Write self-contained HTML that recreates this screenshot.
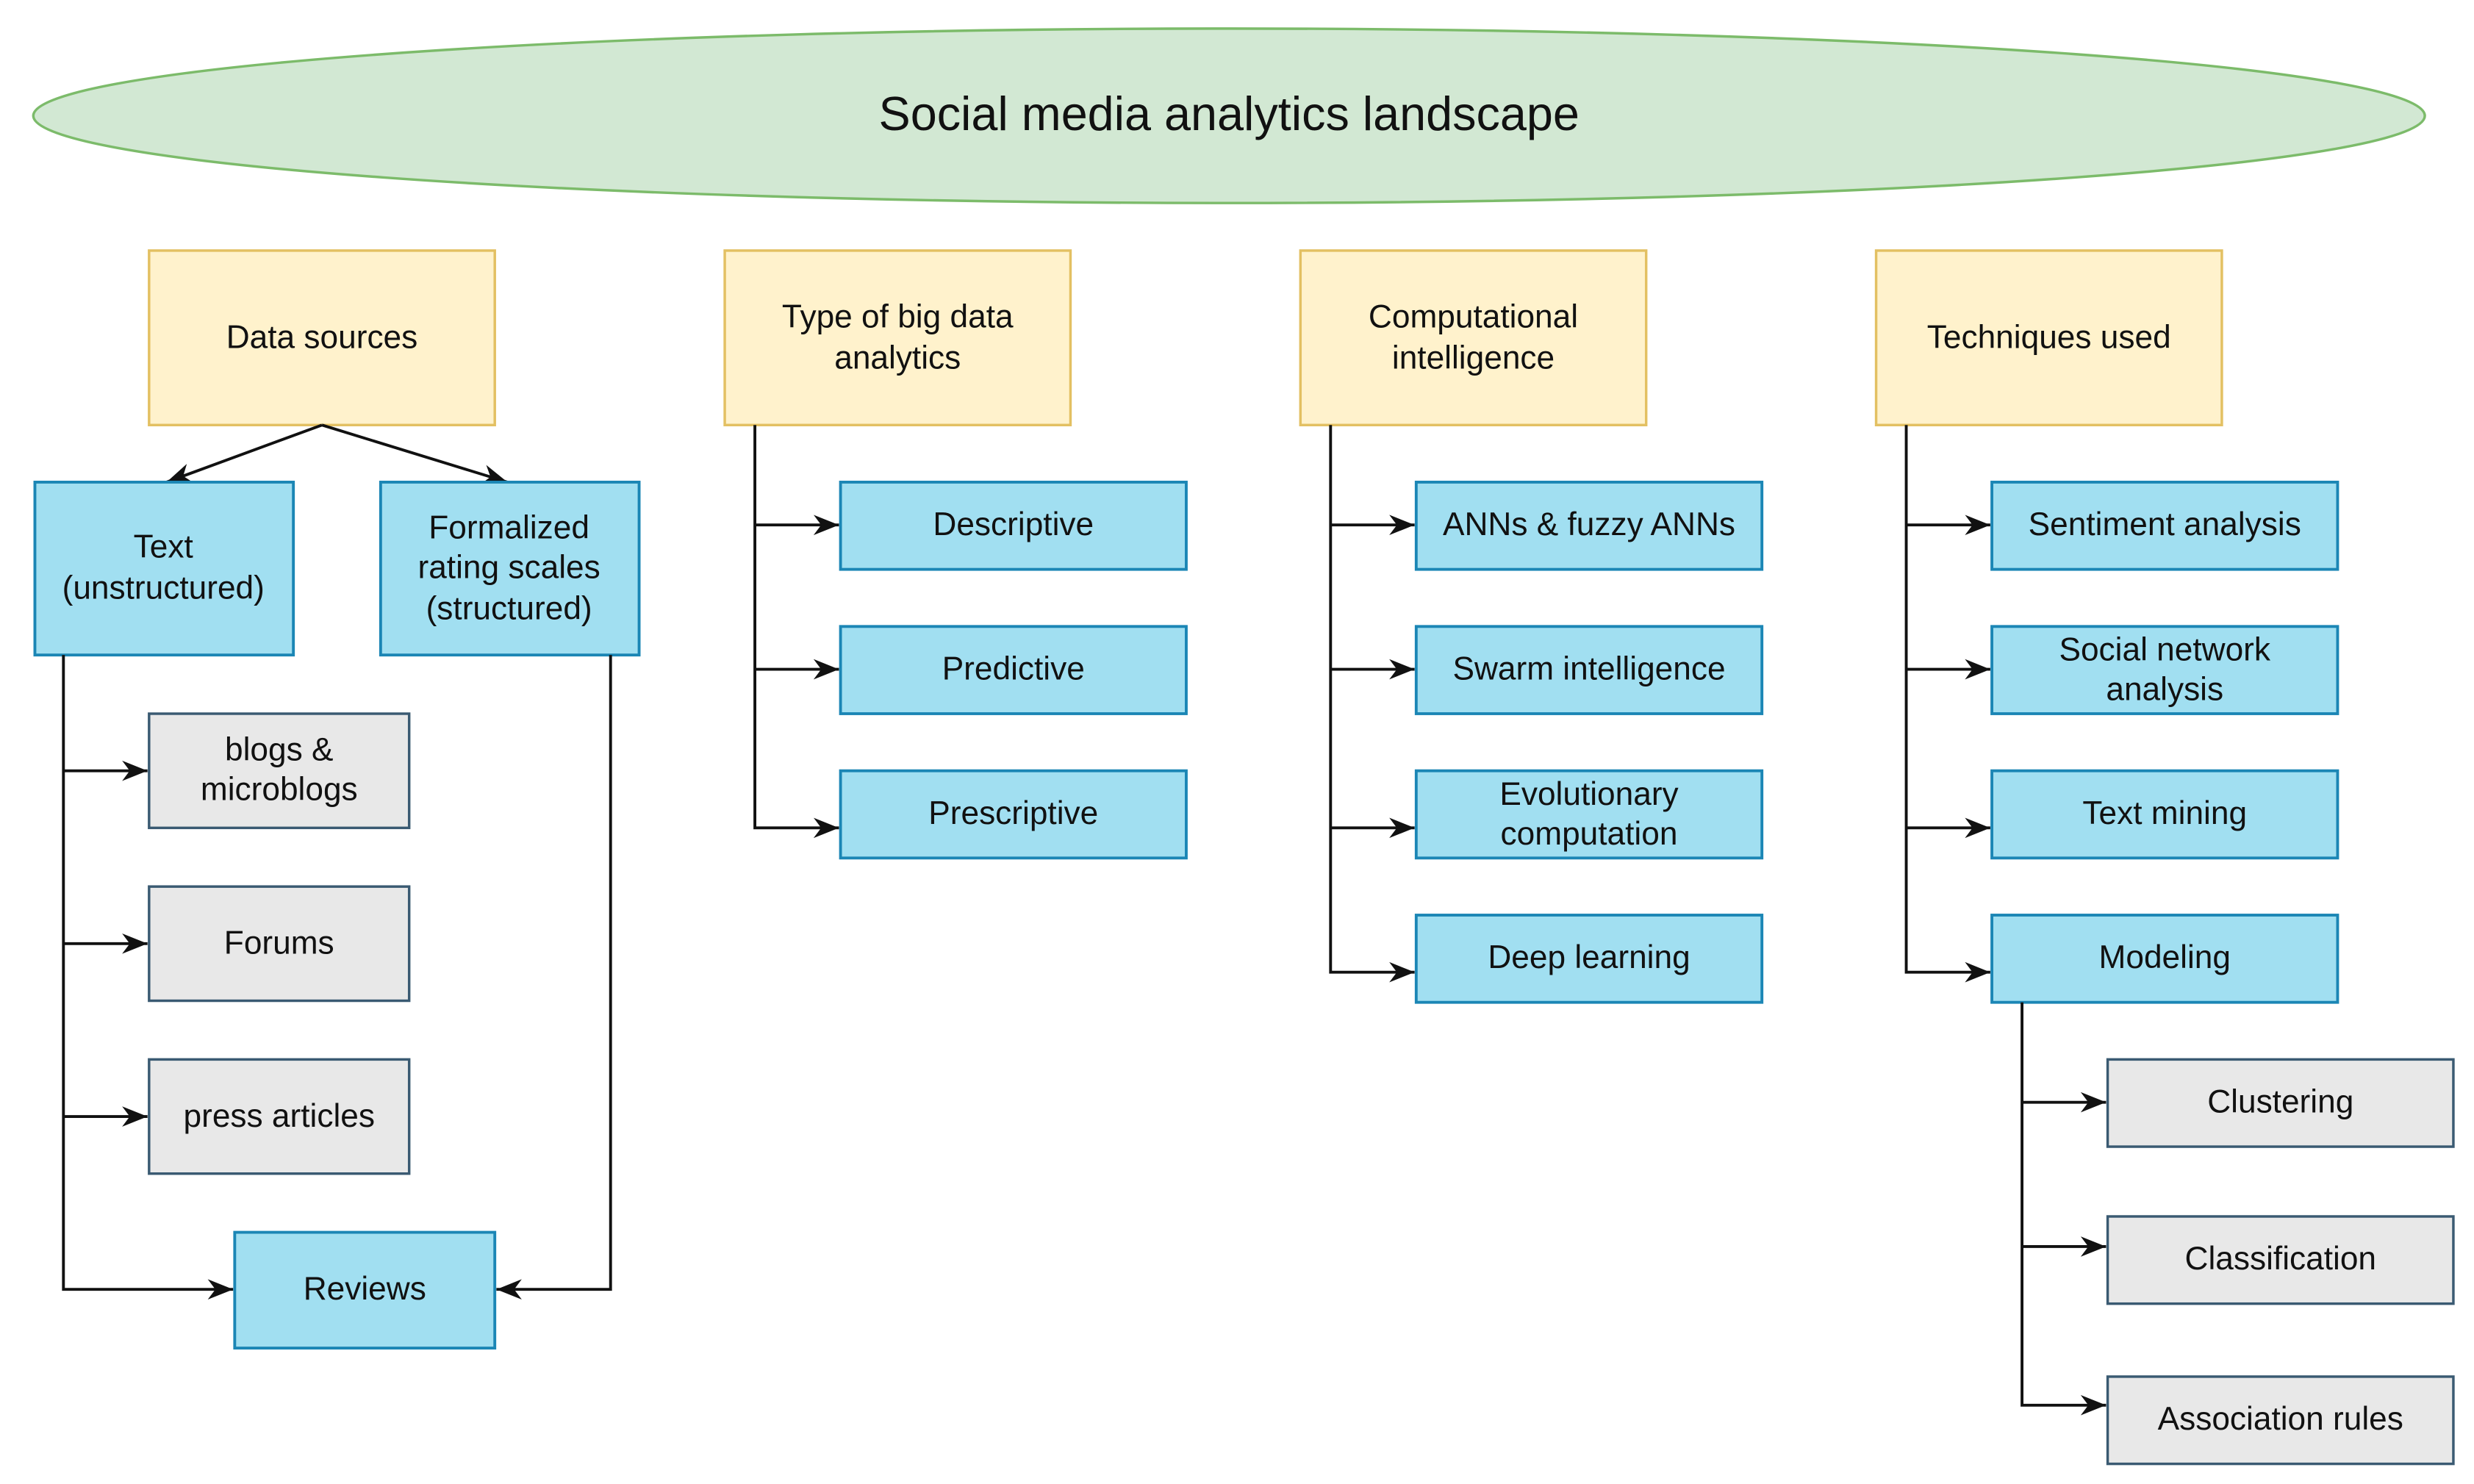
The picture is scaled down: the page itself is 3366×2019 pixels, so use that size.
<!DOCTYPE html>
<html><head><meta charset="utf-8"><style>
html,body{margin:0;padding:0;background:#fff;}
svg{display:block;}
text{font-family:"Liberation Sans",Arial,sans-serif;fill:#111;text-anchor:middle;dominant-baseline:middle;font-size:20.5px;}
.y{fill:#fff2cc;stroke:#e3c062;stroke-width:1.6}
.b{fill:#a1dff1;stroke:#1b86b5;stroke-width:1.8}
.g{fill:#e8e8e8;stroke:#3a5a72;stroke-width:1.6}
.l{stroke:#111;stroke-width:1.8;fill:none}
</style></head><body>
<svg width="3366" height="2019" viewBox="0 0 1560 935.7" preserveAspectRatio="none" xmlns="http://www.w3.org/2000/svg">
<defs><marker id="a" viewBox="0 0 10 10" refX="10" refY="5" markerWidth="7.5" markerHeight="7.5" orient="auto" markerUnits="userSpaceOnUse"><path d="M0,0 L10,5 L0,10 L3,5 z" fill="#111"/></marker>
<marker id="m" viewBox="0 0 10 10" refX="10" refY="5" markerWidth="16" markerHeight="16" orient="auto" markerUnits="userSpaceOnUse"><path d="M0,1 L10,5 L0,9 L3,5 z" fill="#111"/></marker></defs>
<ellipse cx="775" cy="73" rx="754" ry="55" fill="#d2e8d3" stroke="#7cbb6a" stroke-width="1.6"/>
<text x="775" y="74" style="font-size:30px">Social media analytics landscape</text>

<rect class="y" x="94" y="158" width="218" height="110"/><text x="203" y="214">Data sources</text>
<rect class="y" x="457" y="158" width="218" height="110"/><text x="566" y="201">Type of big data</text><text x="566" y="227">analytics</text>
<rect class="y" x="820" y="158" width="218" height="110"/><text x="929" y="201">Computational</text><text x="929" y="227">intelligence</text>
<rect class="y" x="1183" y="158" width="218" height="110"/><text x="1292" y="214">Techniques used</text>

<path class="l" d="M203,268 L105,304" marker-end="url(#m)"/>
<path class="l" d="M203,268 L320,304" marker-end="url(#m)"/>
<rect class="b" x="22" y="304" width="163" height="109"/><text x="103" y="346">Text</text><text x="103" y="372">(unstructured)</text>
<rect class="b" x="240" y="304" width="163" height="109"/><text x="321" y="334">Formalized</text><text x="321" y="359">rating scales</text><text x="321" y="385">(structured)</text>

<path class="l" d="M40,413 V813 H147" marker-end="url(#m)"/>
<path class="l" d="M40,486 H93" marker-end="url(#m)"/>
<path class="l" d="M40,595 H93" marker-end="url(#m)"/>
<path class="l" d="M40,704 H93" marker-end="url(#m)"/>
<path class="l" d="M385,413 V813 H313" marker-end="url(#m)"/>
<rect class="g" x="94" y="450" width="164" height="72"/><text x="176" y="474">blogs &amp;</text><text x="176" y="499">microblogs</text>
<rect class="g" x="94" y="559" width="164" height="72"/><text x="176" y="596">Forums</text>
<rect class="g" x="94" y="668" width="164" height="72"/><text x="176" y="705">press articles</text>
<rect class="b" x="148" y="777" width="164" height="73"/><text x="230" y="814">Reviews</text>

<path class="l" d="M476,268 V522 H529" marker-end="url(#m)"/>
<path class="l" d="M476,331 H529" marker-end="url(#m)"/>
<path class="l" d="M476,422 H529" marker-end="url(#m)"/>
<rect class="b" x="530" y="304" width="218" height="55"/><text x="639" y="332">Descriptive</text>
<rect class="b" x="530" y="395" width="218" height="55"/><text x="639" y="423">Predictive</text>
<rect class="b" x="530" y="486" width="218" height="55"/><text x="639" y="514">Prescriptive</text>

<path class="l" d="M839,268 V613 H892" marker-end="url(#m)"/>
<path class="l" d="M839,331 H892" marker-end="url(#m)"/>
<path class="l" d="M839,422 H892" marker-end="url(#m)"/>
<path class="l" d="M839,522 H892" marker-end="url(#m)"/>
<rect class="b" x="893" y="304" width="218" height="55"/><text x="1002" y="332">ANNs &amp; fuzzy ANNs</text>
<rect class="b" x="893" y="395" width="218" height="55"/><text x="1002" y="423">Swarm intelligence</text>
<rect class="b" x="893" y="486" width="218" height="55"/><text x="1002" y="502">Evolutionary</text><text x="1002" y="527">computation</text>
<rect class="b" x="893" y="577" width="218" height="55"/><text x="1002" y="605">Deep learning</text>

<path class="l" d="M1202,268 V613 H1255" marker-end="url(#m)"/>
<path class="l" d="M1202,331 H1255" marker-end="url(#m)"/>
<path class="l" d="M1202,422 H1255" marker-end="url(#m)"/>
<path class="l" d="M1202,522 H1255" marker-end="url(#m)"/>
<rect class="b" x="1256" y="304" width="218" height="55"/><text x="1365" y="332">Sentiment analysis</text>
<rect class="b" x="1256" y="395" width="218" height="55"/><text x="1365" y="411">Social network</text><text x="1365" y="436">analysis</text>
<rect class="b" x="1256" y="486" width="218" height="55"/><text x="1365" y="514">Text mining</text>
<rect class="b" x="1256" y="577" width="218" height="55"/><text x="1365" y="605">Modeling</text>

<path class="l" d="M1275,632 V886 H1328" marker-end="url(#m)"/>
<path class="l" d="M1275,695 H1328" marker-end="url(#m)"/>
<path class="l" d="M1275,786 H1328" marker-end="url(#m)"/>
<rect class="g" x="1329" y="668" width="218" height="55"/><text x="1438" y="696">Clustering</text>
<rect class="g" x="1329" y="767" width="218" height="55"/><text x="1438" y="795">Classification</text>
<rect class="g" x="1329" y="868" width="218" height="55"/><text x="1438" y="896">Association rules</text>
</svg>
</body></html>
